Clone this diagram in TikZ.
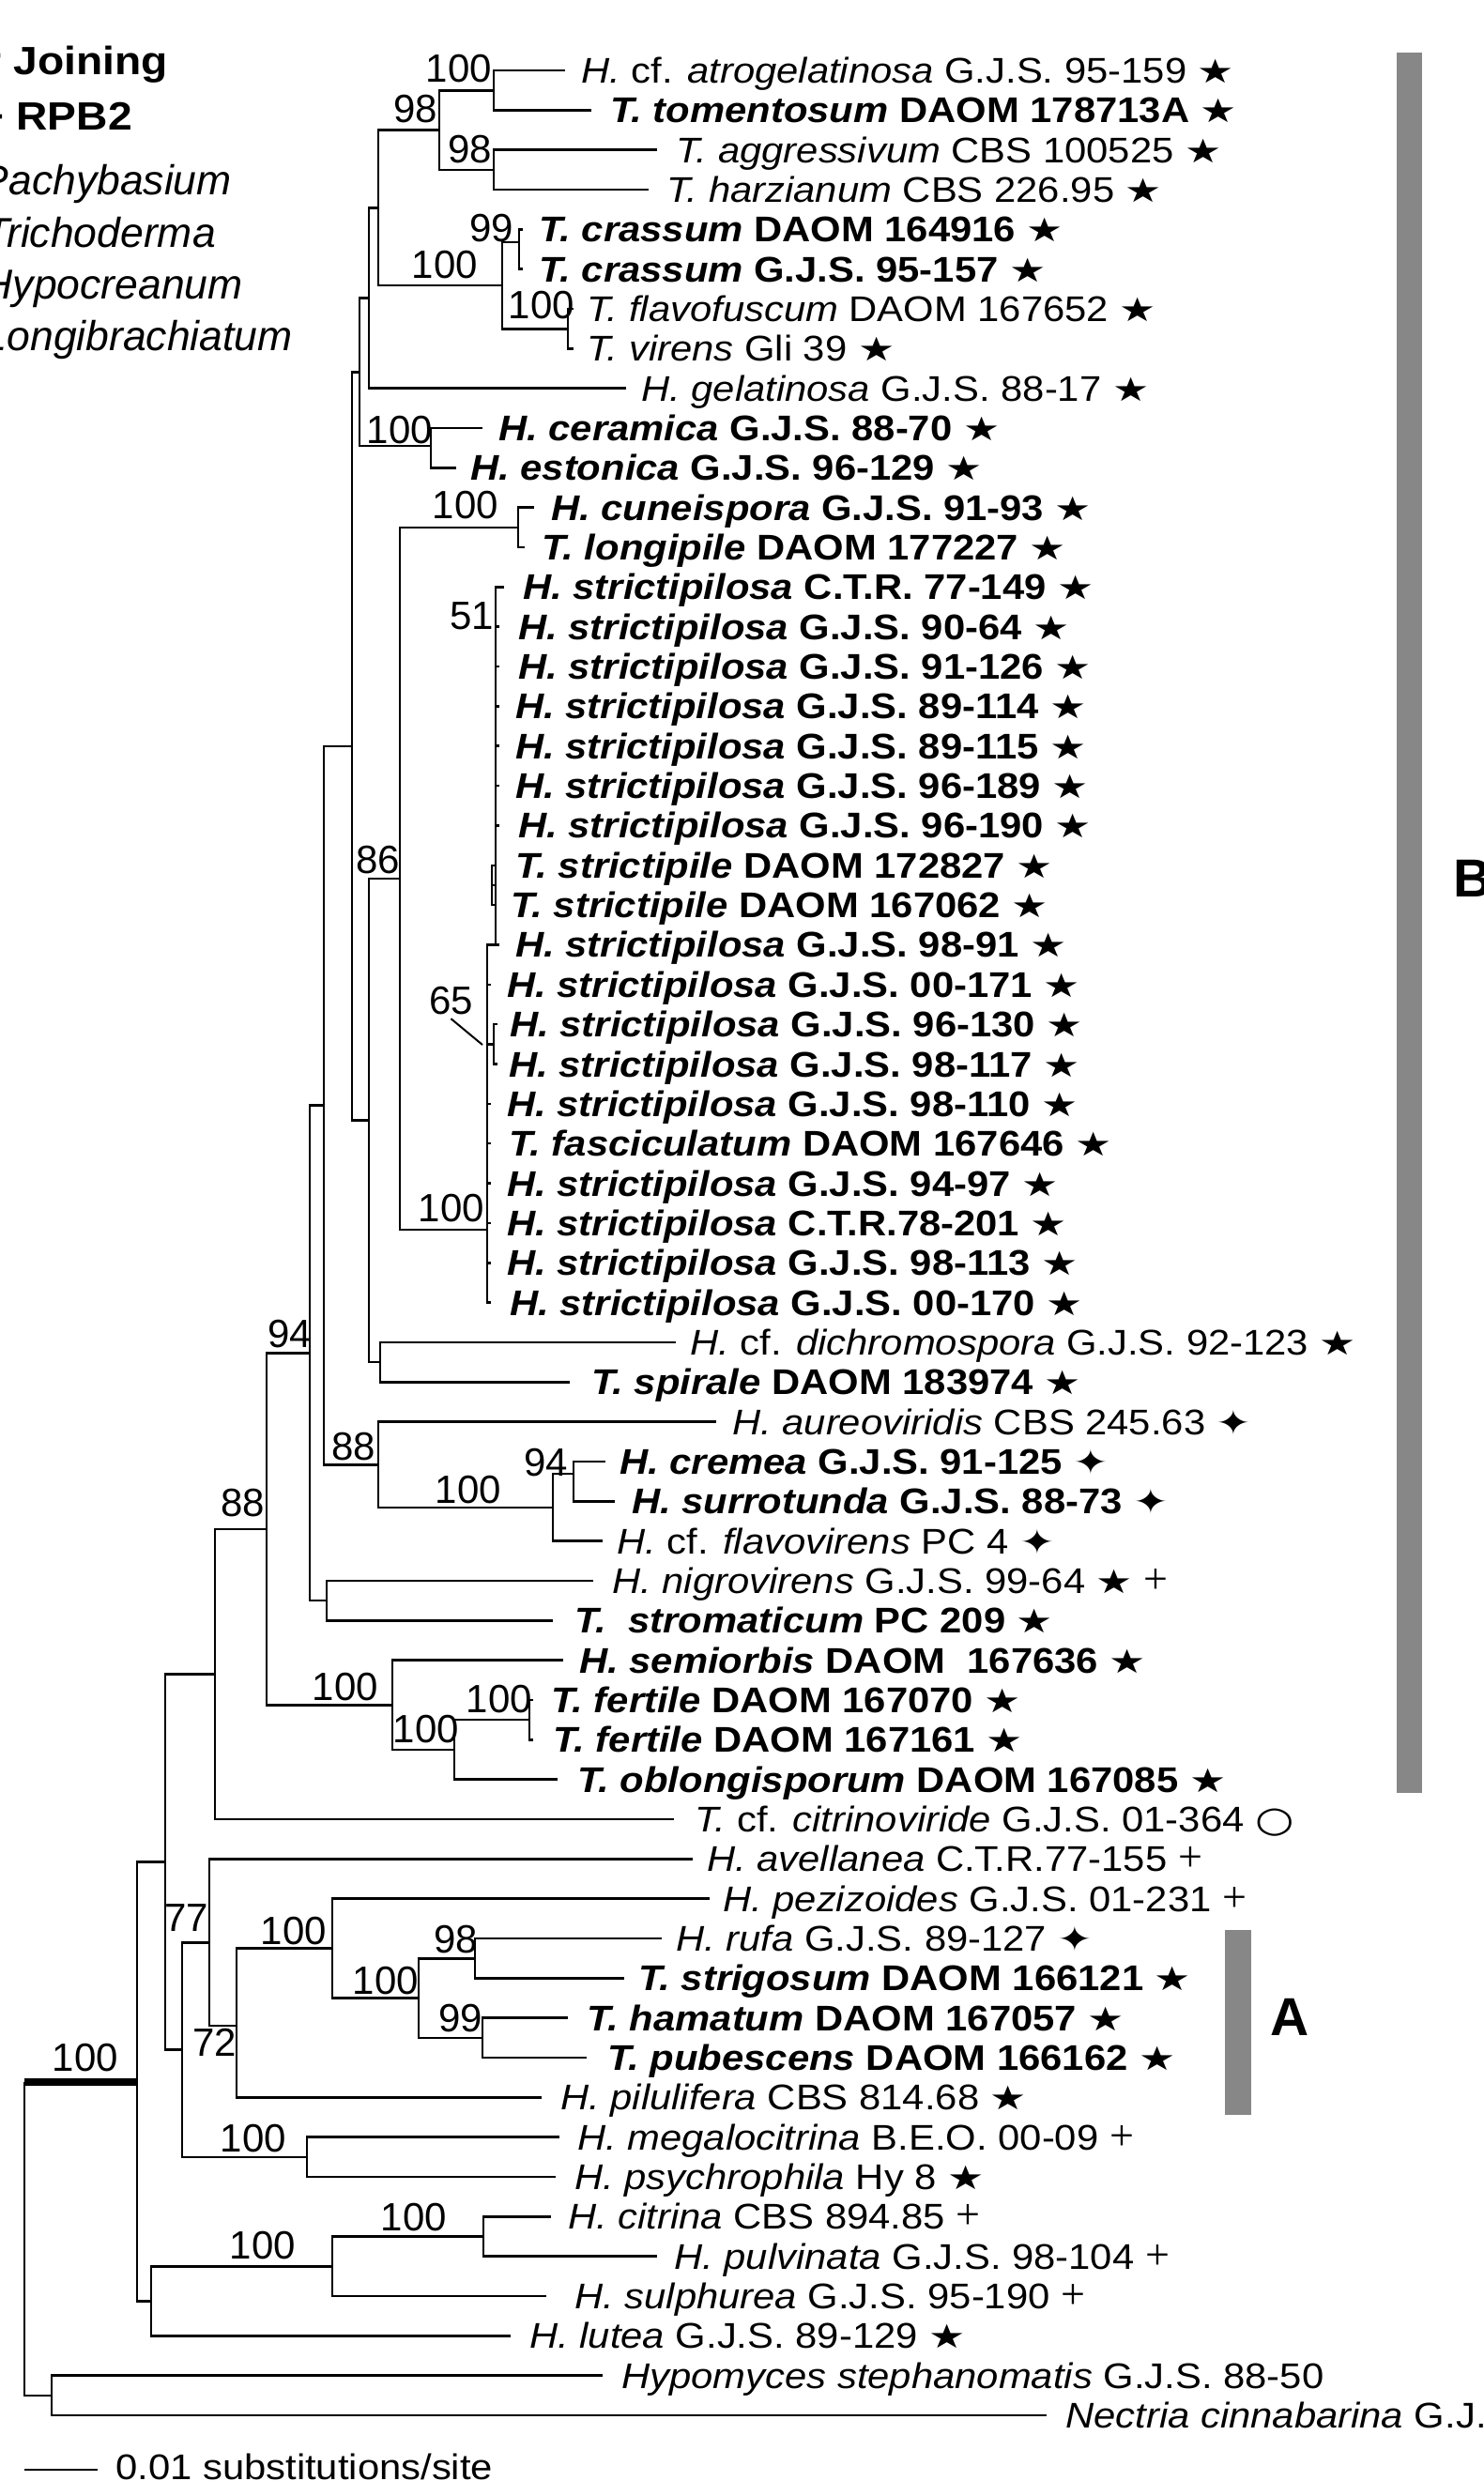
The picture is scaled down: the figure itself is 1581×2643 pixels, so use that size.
\documentclass[tikz,border=0pt]{standalone}
\usepackage{fontspec}
\setmainfont{Liberation Sans}
\newfontfamily\lf[FakeStretch=1.1]{Liberation Sans}
\newfontfamily\symf[FakeStretch=1.25]{DejaVu Sans}
\newfontfamily\plf{Liberation Serif}
\newcommand\Str{{\symf\fontsize{35}{35}\selectfont ★}}
\newcommand\Fst{{\symf\fontsize{36}{36}\selectfont ✦}}
\newcommand\Ocl{{\symf\fontsize{38}{38}\selectfont ○}}
\newcommand\Pls{{\plf\fontsize{46}{46}\selectfont +}}
\newcommand\Leaf[4]{%
  \coordinate (t#1) at (#2,{75+42.34*(#1-1)});
  \node[lab] (l#1) at (#3,{75+42.34*(#1-1)}) {#4};}
\newcommand\SP[1]{\textbf{\textit{H. strictipilosa} #1} \Str}
\begin{document}
\begin{tikzpicture}[x=1pt,y=-1pt,
  br/.style={line width=2.6pt},
  lab/.style={font=\lf\fontsize{38}{40}\selectfont, anchor=west, inner sep=0pt, text height=27pt, text depth=0pt},
  bs/.style={font=\fontsize{42}{44}\selectfont, anchor=east, inner sep=0pt, text height=30pt, text depth=0pt},
  ttl/.style={font=\lf\bfseries\fontsize{42}{44}\selectfont, anchor=base east, inner sep=0pt},
  sect/.style={font=\itshape\fontsize{44.5}{48}\selectfont, anchor=base east, inner sep=0pt},
  cladebar/.style={fill=black!47, draw=none},
  cladelet/.style={font=\bfseries\fontsize{57}{60}\selectfont, anchor=base west, inner sep=0pt}]
\clip (0,0) rectangle (1581,2643);
\fill[white] (0,0) rectangle (1581,2643);

% ---------- title and sections ----------
\node[ttl] (title1) at (179,79) {r Joining};
\node[ttl] (title2) at (141,138) {+ RPB2};
\node[sect] (s1) at (247,207) {Pachybasium};
\node[sect] (s2) at (230,263) {Trichoderma};
\node[sect] (s3) at (259,318) {Hypocreanum};
\node[sect] (s4) at (312,373) {Longibrachiatum};

% ---------- leaves ----------
\Leaf{1}{602}{619}{\textit{H.} cf. \textit{atrogelatinosa} G.J.S. 95-159 \Str}
\Leaf{2}{630}{650}{\textbf{\textit{T. tomentosum} DAOM 178713A} \Str}
\Leaf{3}{700}{720}{\textit{T. aggressivum} CBS 100525 \Str}
\Leaf{4}{691}{710}{\textit{T. harzianum} CBS 226.95 \Str}
\Leaf{5}{557}{574}{\textbf{\textit{T. crassum} DAOM 164916} \Str}
\Leaf{6}{557}{574}{\textbf{\textit{T. crassum} G.J.S. 95-157} \Str}
\Leaf{7}{611}{625}{\textit{T. flavofuscum} DAOM 167652 \Str}
\Leaf{8}{611}{625}{\textit{T. virens} Gli 39 \Str}
\Leaf{9}{667}{683}{\textit{H. gelatinosa} G.J.S. 88-17 \Str}
\Leaf{10}{514}{531}{\textbf{\textit{H. ceramica} G.J.S. 88-70} \Str}
\Leaf{11}{486}{501}{\textbf{\textit{H. estonica} G.J.S. 96-129} \Str}
\Leaf{12}{569}{587}{\textbf{\textit{H. cuneispora} G.J.S. 91-93} \Str}
\Leaf{13}{559}{577}{\textbf{\textit{T. longipile} DAOM 177227} \Str}
\Leaf{14}{537}{557}{\SP{C.T.R. 77-149}}
\Leaf{15}{532}{552}{\SP{G.J.S. 90-64}}
\Leaf{16}{532}{552}{\SP{G.J.S. 91-126}}
\Leaf{17}{532}{549}{\SP{G.J.S. 89-114}}
\Leaf{18}{532}{549}{\SP{G.J.S. 89-115}}
\Leaf{19}{532}{549}{\SP{G.J.S. 96-189}}
\Leaf{20}{532}{552}{\SP{G.J.S. 96-190}}
\Leaf{21}{528}{549}{\textbf{\textit{T. strictipile} DAOM 172827} \Str}
\Leaf{22}{528}{544}{\textbf{\textit{T. strictipile} DAOM 167062} \Str}
\Leaf{23}{532}{549}{\SP{G.J.S. 98-91}}
\Leaf{24}{523}{540}{\SP{G.J.S. 00-171}}
\Leaf{25}{530}{543}{\SP{G.J.S. 96-130}}
\Leaf{26}{530}{542}{\SP{G.J.S. 98-117}}
\Leaf{27}{523}{540}{\SP{G.J.S. 98-110}}
\Leaf{28}{523}{542}{\textbf{\textit{T. fasciculatum} DAOM 167646} \Str}
\Leaf{29}{523}{540}{\SP{G.J.S. 94-97}}
\Leaf{30}{523}{540}{\SP{C.T.R.78-201}}
\Leaf{31}{523}{540}{\SP{G.J.S. 98-113}}
\Leaf{32}{523}{543}{\SP{G.J.S. 00-170}}
\Leaf{33}{720}{735}{\textit{H.} cf. \textit{dichromospora} G.J.S. 92-123 \Str}
\Leaf{34}{607}{630}{\textbf{\textit{T. spirale} DAOM 183974} \Str}
\Leaf{35}{763}{780}{\textit{H. aureoviridis} CBS 245.63 \Fst}
\Leaf{36}{645}{660}{\textbf{\textit{H. cremea} G.J.S. 91-125} \Fst}
\Leaf{37}{655}{673}{\textbf{\textit{H. surrotunda} G.J.S. 88-73} \Fst}
\Leaf{38}{642}{657}{\textit{H.} cf. \textit{flavovirens} PC 4 \Fst}
\Leaf{39}{632}{652}{\textit{H. nigrovirens} G.J.S. 99-64 \Str\ \Pls}
\Leaf{40}{589}{612}{\textbf{\textit{T.\ \ stromaticum} PC 209} \Str}
\Leaf{41}{600}{617}{\textbf{\textit{H. semiorbis} DAOM\ \ 167636} \Str}
\Leaf{42}{568}{587}{\textbf{\textit{T. fertile} DAOM 167070} \Str}
\Leaf{43}{568}{589}{\textbf{\textit{T. fertile} DAOM 167161} \Str}
\Leaf{44}{594}{615}{\textbf{\textit{T. oblongisporum} DAOM 167085} \Str}
\Leaf{45}{718}{740}{\textit{T.} cf. \textit{citrinoviride} G.J.S. 01-364 \Ocl}
\Leaf{46}{738}{753}{\textit{H.\ avellanea} C.T.R.77-155 \Pls}
\Leaf{47}{756}{770}{\textit{H. pezizoides} G.J.S. 01-231 \Pls}
\Leaf{48}{705}{720}{\textit{H. rufa} G.J.S. 89-127 \Fst}
\Leaf{49}{665}{680}{\textbf{\textit{T. strigosum} DAOM 166121} \Str}
\Leaf{50}{605}{625}{\textbf{\textit{T. hamatum} DAOM 167057} \Str}
\Leaf{51}{625}{647}{\textbf{\textit{T. pubescens} DAOM 166162} \Str}
\Leaf{52}{577}{597}{\textit{H. pilulifera} CBS 814.68 \Str}
\Leaf{53}{596}{615}{\textit{H. megalocitrina} B.E.O. 00-09 \Pls}
\Leaf{54}{592}{612}{\textit{H. psychrophila} Hy 8 \Str}
\Leaf{55}{587}{605}{\textit{H. citrina} CBS 894.85 \Pls}
\Leaf{56}{700}{718}{\textit{H. pulvinata} G.J.S. 98-104 \Pls}
\Leaf{57}{582}{612}{\textit{H. sulphurea} G.J.S. 95-190 \Pls}
\Leaf{58}{544}{564}{\textit{H. lutea} G.J.S. 89-129 \Str}
\Leaf{59}{642}{662}{\textit{Hypomyces stephanomatis} G.J.S. 88-50}
\Leaf{60}{1115}{1135}{\textit{Nectria cinnabarina} G.J.}

% ---------- internal nodes ----------
\coordinate (n100a) at (526,96.2);
\coordinate (n98b) at (526,180.9);
\coordinate (n98a) at (468,138.5);
\coordinate (n99) at (553,258);
\coordinate (n100c) at (605,350.2);
\coordinate (n100b) at (535,304.1);
\coordinate (n403) at (403,221.3);
\coordinate (n393) at (393,317.5);
\coordinate (n100d) at (459,475);
\coordinate (n383) at (383,396.3);
\coordinate (n100e) at (552,561.9);
\coordinate (n100f) at (519,1310);
\coordinate (U) at (528,1006.5);
\coordinate (SPn) at (524,943);
\coordinate (n65) at (526,1112.3);
\coordinate (n86) at (426,936);
\coordinate (n405) at (405,1451);
\coordinate (n393b) at (393,1193.5);
\coordinate (n375) at (375,794.9);
\coordinate (n94b) at (611,1570);
\coordinate (n100g) at (589,1605.8);
\coordinate (n88a) at (403,1560.2);
\coordinate (n345) at (345,1177.6);
\coordinate (n348) at (348,1705.1);
\coordinate (n94a) at (330,1441.4);
\coordinate (n100h) at (564,1832.1);
\coordinate (n100i) at (484,1863.9);
\coordinate (n100j) at (418,1816.3);
\coordinate (n88b) at (284,1628.9);
\coordinate (n229) at (229,1783.5);
\coordinate (n98c) at (506,2086.2);
\coordinate (n99b) at (514,2170.9);
\coordinate (n100k) at (446,2128.6);
\coordinate (n100l) at (354,2075.6);
\coordinate (n72) at (252,2158);
\coordinate (n77) at (223,2069.2);
\coordinate (n100m) at (327,2297.9);
\coordinate (n194) at (194,2183.6);
\coordinate (n176) at (176,1983.6);
\coordinate (n100n) at (515,2382.6);
\coordinate (n100o) at (354,2414.3);
\coordinate (n161) at (161,2451.4);
\coordinate (n146) at (146,2217.5);
\coordinate (n55) at (55,2551.9);
\coordinate (root) at (26,2384.7);

% ---------- branches ----------
\foreach \p/\c in {root/n55, n55/t59, n55/t60,
  n146/n176, n146/n161, n161/n100o, n161/t58,
  n100o/n100n, n100o/t57, n100n/t55, n100n/t56,
  n176/n229, n176/n194, n194/n77, n194/n100m,
  n100m/t53, n100m/t54, n77/t46, n77/n72,
  n72/n100l, n72/t52, n100l/t47, n100l/n100k,
  n100k/n98c, n100k/n99b, n98c/t48, n98c/t49,
  n99b/t50, n99b/t51, n229/n88b, n229/t45,
  n88b/n94a, n88b/n100j, n100j/t41, n100j/n100i,
  n100i/n100h, n100i/t44, n100h/t42, n100h/t43,
  n94a/n345, n94a/n348, n348/t39, n348/t40,
  n345/n375, n345/n88a, n88a/t35, n88a/n100g,
  n100g/n94b, n100g/t38, n94b/t36, n94b/t37,
  n375/n383, n375/n393b, n393b/n86, n393b/n405,
  n405/t33, n405/t34, n86/n100e, n86/n100f,
  n100e/t12, n100e/t13, n383/n393, n383/n100d,
  n100d/t10, n100d/t11, n393/n403, n393/t9,
  n403/n98a, n403/n100b, n98a/n100a, n98a/n98b,
  n100a/t1, n100a/t2, n98b/t3, n98b/t4,
  n100b/n99, n100b/n100c, n99/t5, n99/t6,
  n100c/t7, n100c/t8,
  n100f/U, U/t14, U/t15, U/t16, U/t17, U/t18, U/t19, U/t20,
  U/SPn, U/t23, SPn/t21, SPn/t22,
  n100f/t24, n100f/n65, n65/t25, n65/t26, n100f/t27, n100f/t28,
  n100f/t29, n100f/t30, n100f/t31, n100f/t32}
  {\draw[br] (\p) |- (\c);}
\draw[br] (root) -- (root |- n146);
\draw[line width=8pt] (root |- n146) -- (n146);

% ---------- bootstrap values ----------
\node[bs] (b1) at (524,72) {100};
\node[bs] (b2) at (466,115) {98};
\node[bs] (b3) at (524,158) {98};
\node[bs] (b4) at (547,242) {99};
\node[bs] (b5) at (509,281) {100};
\node[bs] (b6) at (612,324) {100};
\node[bs] (b7) at (461,457) {100};
\node[bs] (b8) at (531,537) {100};
\node[bs] (b9) at (526,655) {51};
\node[bs] (b10) at (426,915) {86};
\node[bs] (b65) at (504,1065) {65};
\coordinate (lead65) at (514,1113);
\draw[line width=2pt] ([yshift=-5pt]b65.south) -- (lead65);
\node[bs] (b12) at (516,1286) {100};
\node[bs] (b13) at (332,1420) {94};
\node[bs] (b14) at (400,1540) {88};
\node[bs] (b15) at (605,1557) {94};
\node[bs] (b16) at (534,1586) {100};
\node[bs] (b17) at (282,1600) {88};
\node[bs] (b18) at (403,1796) {100};
\node[bs] (b19) at (567,1809) {100};
\node[bs] (b20) at (489,1841) {100};
\node[bs] (b21) at (222,2042) {77};
\node[bs] (b22) at (348,2056) {100};
\node[bs] (b23) at (509,2065) {98};
\node[bs] (b24) at (446,2109) {100};
\node[bs] (b25) at (514,2149) {99};
\node[bs] (b26) at (252,2175) {72};
\node[bs] (b27) at (126,2191) {100};
\node[bs] (b28) at (305,2277) {100};
\node[bs] (b29) at (476,2361) {100};
\node[bs] (b30) at (315,2391) {100};

% ---------- clade bars ----------
\fill[cladebar] (1488,56) rectangle (1515,1910);
\node[cladelet] (cB) at (1548,955) {B};
\fill[cladebar] (1305,2056) rectangle (1333,2253);
\node[cladelet] (cA) at (1353,2168) {A};

% ---------- scale bar ----------
\coordinate (sc1) at (26,2631);
\coordinate (sc2) at (104,2631);
\draw[line width=2.6pt] (sc1) -- (sc2);
\node[font=\lf\fontsize{38}{40}\selectfont, anchor=base west, inner sep=0pt] (scl) at (123,2641) {0.01 substitutions/site};
\end{tikzpicture}
\end{document}
